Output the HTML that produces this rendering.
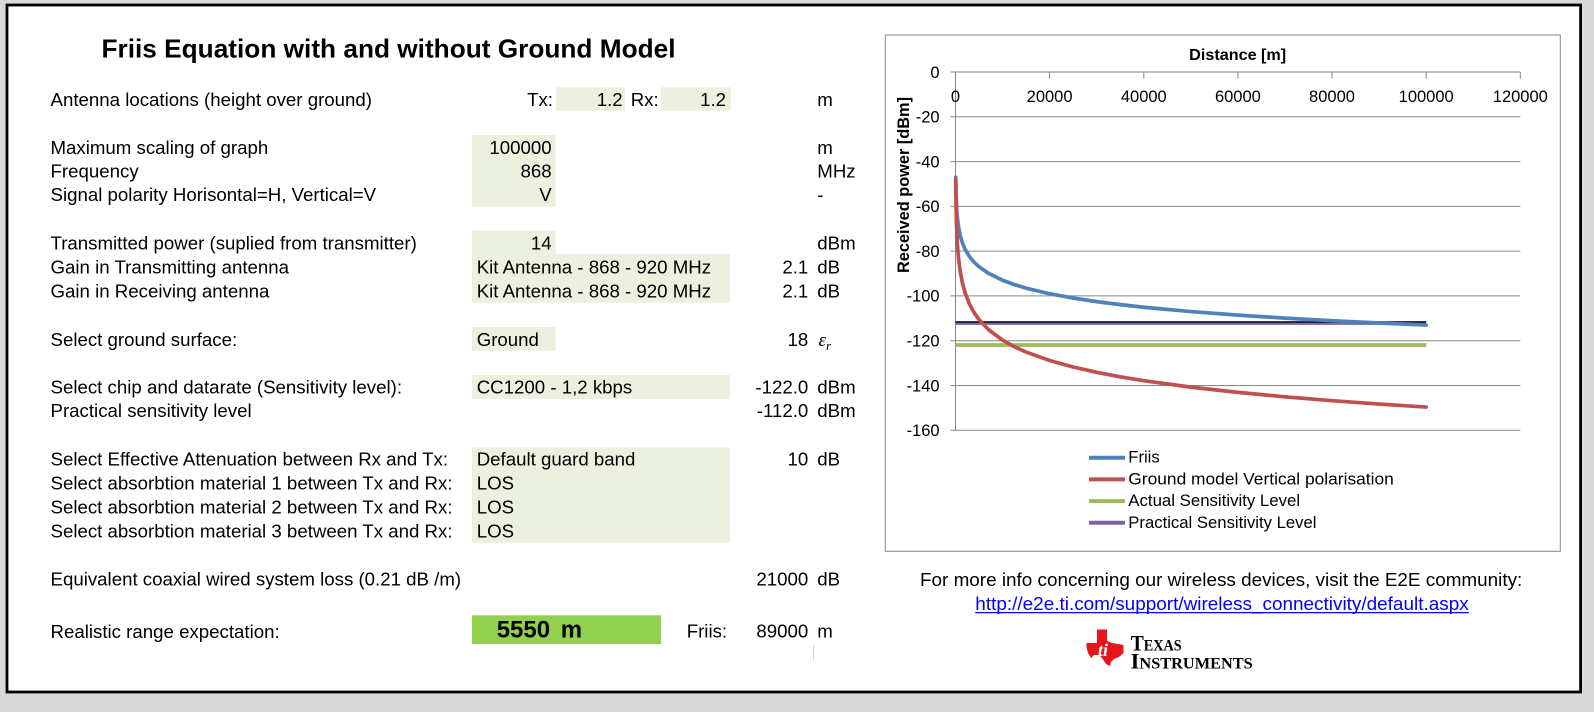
<!DOCTYPE html>
<html>
<head>
<meta charset="utf-8">
<style>
html,body{margin:0;padding:0;background:#d9d9d9;}
svg{display:block;}
text{font-family:"Liberation Sans",Arial,sans-serif;fill:#000;}
.l{font-size:18.67px;}
.ax{font-size:16.5px;}
.lg{font-size:17px;}
</style>
</head>
<body>
<svg width="1594" height="712" viewBox="0 0 1594 712" xmlns="http://www.w3.org/2000/svg">
<rect width="1594" height="712" fill="#d9d9d9"/>
<rect x="7" y="5" width="1573.6" height="687" fill="#ffffff" stroke="#000" stroke-width="2.8"/>

<!-- Title -->
<text x="101.5" y="57.3" font-size="26" font-weight="bold" textLength="574" lengthAdjust="spacingAndGlyphs">Friis Equation with and without Ground Model</text>

<!-- cell fills -->
<g fill="#ebf1de">
<rect x="556" y="87.3" width="69" height="23.4"/>
<rect x="661" y="87.3" width="69.7" height="23.4"/>
<rect x="472" y="135" width="83.7" height="71.7"/>
<rect x="472" y="230.7" width="83.7" height="23.3"/>
<rect x="472" y="254" width="258" height="48.7"/>
<rect x="472" y="327" width="83.7" height="23.7"/>
<rect x="472" y="375" width="258" height="24"/>
<rect x="472" y="447.3" width="258" height="95.4"/>
</g>
<rect x="472" y="615.3" width="189" height="28.7" fill="#92d050"/>
<line x1="813.5" y1="645" x2="813.5" y2="660" stroke="#d4d4d4" stroke-width="1"/>

<!-- left labels -->
<g class="l">
<text class="l" x="50.5" y="106">Antenna locations (height over ground)</text>
<text class="l" x="50.5" y="154">Maximum scaling of graph</text>
<text class="l" x="50.5" y="177.5">Frequency</text>
<text class="l" x="50.5" y="201">Signal polarity Horisontal=H, Vertical=V</text>
<text class="l" x="50.5" y="249.3">Transmitted power (suplied from transmitter)</text>
<text class="l" x="50.5" y="273.3">Gain in Transmitting antenna</text>
<text class="l" x="50.5" y="297.3">Gain in Receiving antenna</text>
<text class="l" x="50.5" y="346">Select ground surface:</text>
<text class="l" x="50.5" y="393.5">Select chip and datarate (Sensitivity level):</text>
<text class="l" x="50.5" y="417">Practical sensitivity level</text>
<text class="l" x="50.5" y="465.4">Select Effective Attenuation between Rx and Tx:</text>
<text class="l" x="50.5" y="489.3">Select absorbtion material 1 between Tx and Rx:</text>
<text class="l" x="50.5" y="513.3">Select absorbtion material 2 between Tx and Rx:</text>
<text class="l" x="50.5" y="537.3">Select absorbtion material 3 between Tx and Rx:</text>
<text class="l" x="50.5" y="585.7">Equivalent coaxial wired system loss (0.21 dB /m)</text>
<text class="l" x="50.5" y="638">Realistic range expectation:</text>
</g>

<!-- cell values -->
<text class="l" x="553" y="106" text-anchor="end">Tx:</text>
<text class="l" x="622.7" y="106" text-anchor="end">1.2</text>
<text class="l" x="630.7" y="106">Rx:</text>
<text class="l" x="726" y="106" text-anchor="end">1.2</text>
<text class="l" x="551.7" y="154" text-anchor="end">100000</text>
<text class="l" x="551.7" y="177.5" text-anchor="end">868</text>
<text class="l" x="551.7" y="201" text-anchor="end">V</text>
<text class="l" x="551.7" y="249.3" text-anchor="end">14</text>
<text class="l" x="476.7" y="273.3">Kit Antenna - 868 - 920 MHz</text>
<text class="l" x="476.7" y="297.3">Kit Antenna - 868 - 920 MHz</text>
<text class="l" x="476.7" y="346">Ground</text>
<text class="l" x="476.7" y="393.5">CC1200 - 1,2 kbps</text>
<text class="l" x="476.7" y="465.4">Default guard band</text>
<text class="l" x="476.7" y="489.3">LOS</text>
<text class="l" x="476.7" y="513.3">LOS</text>
<text class="l" x="476.7" y="537.3">LOS</text>

<!-- right numbers -->
<text class="l" x="808.3" y="273.3" text-anchor="end">2.1</text>
<text class="l" x="808.3" y="297.3" text-anchor="end">2.1</text>
<text class="l" x="808.3" y="346" text-anchor="end">18</text>
<text class="l" x="808.3" y="393.5" text-anchor="end">-122.0</text>
<text class="l" x="808.3" y="417" text-anchor="end">-112.0</text>
<text class="l" x="808.3" y="465.4" text-anchor="end">10</text>
<text class="l" x="808.3" y="585.7" text-anchor="end">21000</text>
<text class="l" x="808.3" y="637.7" text-anchor="end">89000</text>

<!-- units -->
<text class="l" x="817.3" y="106">m</text>
<text class="l" x="817.3" y="154">m</text>
<text class="l" x="817.3" y="177.5">MHz</text>
<text class="l" x="817.3" y="201">-</text>
<text class="l" x="817.3" y="249.3">dBm</text>
<text class="l" x="817.3" y="273.3">dB</text>
<text class="l" x="817.3" y="297.3">dB</text>
<text x="818.5" y="346" font-size="19" font-style="italic" style="font-family:'Liberation Serif','DejaVu Serif',serif">ε<tspan font-size="13" dy="4">r</tspan></text>
<text class="l" x="817.3" y="393.5">dBm</text>
<text class="l" x="817.3" y="417">dBm</text>
<text class="l" x="817.3" y="465.4">dB</text>
<text class="l" x="817.3" y="585.7">dB</text>
<text class="l" x="817.3" y="637.7">m</text>

<!-- realistic range -->
<text x="496.7" y="637.3" font-size="24" font-weight="bold">5550</text>
<text x="560.7" y="637.3" font-size="24" font-weight="bold">m</text>
<text class="l" x="686.7" y="637.7">Friis:</text>

<!-- CHART -->
<rect x="885.3" y="35" width="675" height="516.3" fill="#fff" stroke="#868686" stroke-width="1"/>
<text x="1237.7" y="60" font-size="16" font-weight="bold" text-anchor="middle" textLength="97" lengthAdjust="spacingAndGlyphs">Distance [m]</text>
<text transform="translate(909,185) rotate(-90)" font-size="16.5" font-weight="bold" text-anchor="middle" textLength="176" lengthAdjust="spacingAndGlyphs">Received power [dBm]</text>

<!-- gridlines -->
<g stroke="#868686" stroke-width="1">
<line x1="955.5" y1="72" x2="1520.3" y2="72"/>
<line x1="950.5" y1="116.8" x2="1520.3" y2="116.8"/>
<line x1="950.5" y1="161.6" x2="1520.3" y2="161.6"/>
<line x1="950.5" y1="206.4" x2="1520.3" y2="206.4"/>
<line x1="950.5" y1="251.1" x2="1520.3" y2="251.1"/>
<line x1="950.5" y1="295.9" x2="1520.3" y2="295.9"/>
<line x1="950.5" y1="340.7" x2="1520.3" y2="340.7"/>
<line x1="950.5" y1="385.5" x2="1520.3" y2="385.5"/>
<line x1="950.5" y1="430.3" x2="1520.3" y2="430.3"/>
<line x1="950.5" y1="72" x2="955.5" y2="72"/>
<line x1="955.5" y1="72" x2="955.5" y2="430.3"/>
<line x1="955.5" y1="72" x2="955.5" y2="78.7"/>
<line x1="1049.6" y1="72" x2="1049.6" y2="78.7"/>
<line x1="1143.8" y1="72" x2="1143.8" y2="78.7"/>
<line x1="1237.9" y1="72" x2="1237.9" y2="78.7"/>
<line x1="1332" y1="72" x2="1332" y2="78.7"/>
<line x1="1426.2" y1="72" x2="1426.2" y2="78.7"/>
<line x1="1520.3" y1="72" x2="1520.3" y2="78.7"/>
</g>

<!-- y labels -->
<g class="ax" text-anchor="end">
<text class="ax" x="939.6" y="77.8">0</text>
<text class="ax" x="939.6" y="122.6">-20</text>
<text class="ax" x="939.6" y="167.4">-40</text>
<text class="ax" x="939.6" y="212.2">-60</text>
<text class="ax" x="939.6" y="256.9">-80</text>
<text class="ax" x="939.6" y="301.7">-100</text>
<text class="ax" x="939.6" y="346.5">-120</text>
<text class="ax" x="939.6" y="391.3">-140</text>
<text class="ax" x="939.6" y="436.1">-160</text>
</g>
<!-- x labels -->
<g text-anchor="middle">
<text class="ax" x="955.5" y="102">0</text>
<text class="ax" x="1049.6" y="102">20000</text>
<text class="ax" x="1143.8" y="102">40000</text>
<text class="ax" x="1237.9" y="102">60000</text>
<text class="ax" x="1332" y="102">80000</text>
<text class="ax" x="1426.2" y="102">100000</text>
<text class="ax" x="1520.3" y="102">120000</text>
</g>

<!-- series -->
<line x1="955.5" y1="345" x2="1426.2" y2="345" stroke="#9bbb59" stroke-width="3.7"/>
<line x1="955.5" y1="323.7" x2="1426.2" y2="323.7" stroke="#8064a2" stroke-width="2.4"/>
<line x1="955.5" y1="322" x2="1426.2" y2="322" stroke="#1a1430" stroke-width="1.8"/>
<polyline fill="none" stroke="#4f81bd" stroke-width="3.7" stroke-linejoin="round" stroke-linecap="round"
points="955.74,177.2 955.83,183.75 955.97,190.69 956.21,198.57 956.44,204.17 956.91,212.06 957.38,217.65 957.85,221.99 958.79,228.54 960.21,235.47 962.56,243.36 964.91,248.96 969.62,256.84 974.33,262.44 979.03,266.78 988.45,273.32 1002.57,280.26 1014.33,284.6 1026.1,288.15 1049.63,293.74 1073.17,298.09 1096.7,301.63 1120.23,304.63 1143.77,307.23 1190.84,311.57 1237.9,315.11 1284.97,318.11 1332.04,320.71 1379.1,323.0 1426.17,325.05"/>
<polyline fill="none" stroke="#c0504d" stroke-width="3.7" stroke-linejoin="round" stroke-linecap="round"
points="955.74,179.04 955.83,189.57 955.97,200.68 956.21,213.26 956.44,222.16 956.91,234.64 957.38,243.46 957.85,250.28 958.79,260.53 960.21,271.36 962.56,283.61 964.91,292.27 969.62,304.42 974.33,313.0 979.03,319.64 988.45,329.62 1002.57,340.15 1014.33,346.71 1026.1,352.07 1049.63,360.49 1073.17,367.0 1096.7,372.31 1120.23,376.79 1143.77,380.65 1190.84,387.12 1237.9,392.38 1284.97,396.82 1332.04,400.66 1379.1,404.04 1426.17,407.06"/>

<!-- legend -->
<line x1="1089" y1="457.7" x2="1125" y2="457.7" stroke="#4f81bd" stroke-width="4"/>
<line x1="1089" y1="479.4" x2="1125" y2="479.4" stroke="#c0504d" stroke-width="4"/>
<line x1="1089" y1="501.1" x2="1125" y2="501.1" stroke="#9bbb59" stroke-width="4"/>
<line x1="1089" y1="522.8" x2="1125" y2="522.8" stroke="#8064a2" stroke-width="4"/>
<text class="lg" x="1128.3" y="462.7" textLength="31.4" lengthAdjust="spacingAndGlyphs">Friis</text>
<text class="lg" x="1128.3" y="484.4" textLength="265.5" lengthAdjust="spacingAndGlyphs">Ground model Vertical polarisation</text>
<text class="lg" x="1128.3" y="506.1" textLength="171.8" lengthAdjust="spacingAndGlyphs">Actual Sensitivity Level</text>
<text class="lg" x="1128.3" y="527.8" textLength="188.2" lengthAdjust="spacingAndGlyphs">Practical Sensitivity Level</text>

<!-- info -->
<text class="l" x="920" y="586" textLength="602.3" lengthAdjust="spacingAndGlyphs">For more info concerning our wireless devices, visit the E2E community:</text>
<text class="l" x="975.3" y="610" fill="#0000ff" style="fill:#0000ff" textLength="493.4" lengthAdjust="spacingAndGlyphs">http://e2e.ti.com/support/wireless_connectivity/default.aspx</text>
<line x1="975.3" y1="612.6" x2="1468.7" y2="612.6" stroke="#0000ff" stroke-width="1.3"/>

<!-- TI logo -->
<polygon fill="#e8141c" points="1097,629.5 1107,629.5 1107,641 1112,643 1118,644 1123.5,645 1123.5,653 1119,657 1114,659 1111,662 1110,666 1106,664 1102,658 1099,655 1094,655 1091,658 1088,653 1086.5,647 1086.5,643 1097,643"/>
<text x="1098" y="656" font-size="18" font-weight="bold" font-style="italic" style="font-family:'Liberation Serif',serif;fill:#fff">ti</text>
<text x="1130.7" y="650.7" font-weight="bold" style="font-family:'Liberation Serif',serif" textLength="51" lengthAdjust="spacingAndGlyphs"><tspan font-size="22">T</tspan><tspan font-size="16">EXAS</tspan></text>
<text x="1130.7" y="668.3" font-weight="bold" style="font-family:'Liberation Serif',serif" textLength="122" lengthAdjust="spacingAndGlyphs"><tspan font-size="22">I</tspan><tspan font-size="16">NSTRUMENTS</tspan></text>
</svg>
</body>
</html>
